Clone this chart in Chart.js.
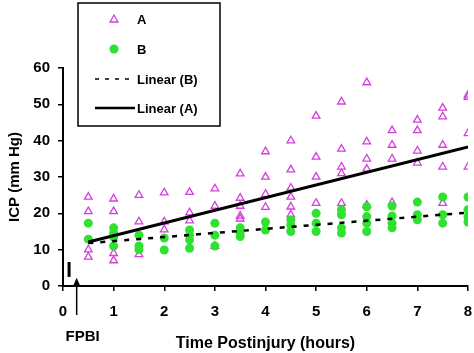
<!DOCTYPE html>
<html>
<head>
<meta charset="utf-8">
<script src="https://cdn.jsdelivr.net/npm/chart.js@4.4.0/dist/chart.umd.min.js"></script>
<style>
    html, body { margin: 0; padding: 0; background: #fff; }
    #wrap { position: relative; width: 474px; height: 353px; }
</style>
</head>
<body>
<div id="wrap"><canvas id="icpChart" width="474" height="353"></canvas></div>
<script>
// Time points (hours after injury) and ICP readings per time point
const hours = [0.5, 1, 1.5, 2, 2.5, 3, 3.5, 4, 4.5, 5, 5.5, 6, 6.5, 7, 7.5, 8];

const groupA = [
    [24.5, 20.5, 10, 8],
    [24, 20.5, 9, 7],
    [25, 17.7, 8.7],
    [25.7, 17.7, 15.5],
    [25.8, 20.2, 18],
    [26.8, 22, 11],
    [30.9, 24.2, 22, 19.3, 18.5],
    [37, 30, 25.3, 21.7],
    [40, 32, 27, 24.5, 21.8, 19.6],
    [46.8, 35.5, 30, 22.8],
    [50.7, 37.7, 32.8, 31, 22.8],
    [56, 39.7, 35, 32.2, 22.3],
    [42.8, 38.8, 35, 23],
    [45.7, 42.8, 37.2, 33.9],
    [49, 46.6, 38.8, 32.8, 22.8],
    [52.6, 52, 42, 32.8]
];

const groupB = [
    [17.3, 12.9],
    [16, 14.6, 13.5, 11],
    [14, 11, 10],
    [13.2, 9.9],
    [15.4, 14, 12.7, 10.4],
    [17.3, 14, 11],
    [16, 14.5, 13.6],
    [17.6, 15.4],
    [18.2, 16.8, 15],
    [20, 17.3, 15],
    [21, 19.6, 16, 14.6],
    [21.8, 19.1, 17.3, 15],
    [22, 19.3, 17.3, 16],
    [23.1, 19.6, 18.2],
    [24.5, 19.6, 17.3],
    [24.5, 21, 19, 17.6]
];

// Linear fits, endpoints
const fitHours = [0.5, 8];
const fitA = [12.1, 38.3];
const fitB = [11.8, 20.2];

// Injury marker: short bar [hour, from, to] and arrow [hour, tip]
const fpbiBar = [0.12, 2.5, 6.6];
const fpbiArrow = [0.27, 2.3];

const seriesLabels = ['A', 'B', 'Linear (B)', 'Linear (A)'];

const MAGENTA = '#d43ede';
const GREEN = '#2fe22f';
const FONT = "'Liberation Sans', Arial, sans-serif";

const toPoints = (groups) => hours.flatMap((h, i) => groups[i].map(v => ({ x: h, y: v })));
const fitPoints = (vals) => fitHours.map((h, i) => ({ x: h, y: vals[i] }));

// Boxed legend in the upper left
const boxLegend = {
    id: 'boxLegend',
    afterDraw(chart) {
        const ctx = chart.ctx;
        ctx.save();
        ctx.strokeStyle = '#000';
        ctx.lineWidth = 1.5;
        ctx.strokeRect(78, 3, 142, 123);

        const rows = [19, 49, 79, 108];
        ctx.font = 'bold 13px ' + FONT;
        ctx.textBaseline = 'middle';

        // A - hollow triangle
        ctx.strokeStyle = MAGENTA;
        ctx.lineWidth = 1.3;
        ctx.beginPath();
        ctx.moveTo(114, rows[0] - 4);
        ctx.lineTo(118, rows[0] + 3);
        ctx.lineTo(110, rows[0] + 3);
        ctx.closePath();
        ctx.stroke();

        // B - green dot
        ctx.fillStyle = GREEN;
        ctx.beginPath();
        ctx.arc(114, rows[1], 4.5, 0, Math.PI * 2);
        ctx.fill();

        // Linear (B) - dashed
        ctx.strokeStyle = '#000';
        ctx.lineWidth = 1.5;
        ctx.setLineDash([4, 6]);
        ctx.beginPath();
        ctx.moveTo(95, rows[2]);
        ctx.lineTo(135, rows[2]);
        ctx.stroke();

        // Linear (A) - solid
        ctx.setLineDash([]);
        ctx.lineWidth = 2.5;
        ctx.beginPath();
        ctx.moveTo(95, rows[3]);
        ctx.lineTo(135, rows[3]);
        ctx.stroke();

        ctx.fillStyle = '#000';
        seriesLabels.forEach((label, i) => ctx.fillText(label, 137, rows[i] + 1));
        ctx.restore();
    }
};

// FPBI bar + arrow + label
const fpbiMarker = {
    id: 'fpbiMarker',
    afterDraw(chart) {
        const { ctx, scales: { x, y } } = chart;
        ctx.save();
        ctx.strokeStyle = '#000';
        ctx.fillStyle = '#000';

        const bx = x.getPixelForValue(fpbiBar[0]);
        ctx.lineWidth = 3;
        ctx.beginPath();
        ctx.moveTo(bx, y.getPixelForValue(fpbiBar[1]));
        ctx.lineTo(bx, y.getPixelForValue(fpbiBar[2]));
        ctx.stroke();

        const ax = x.getPixelForValue(fpbiArrow[0]);
        const tip = y.getPixelForValue(fpbiArrow[1]);
        ctx.lineWidth = 1.5;
        ctx.beginPath();
        ctx.moveTo(ax, y.bottom + 29);
        ctx.lineTo(ax, tip + 4);
        ctx.stroke();
        ctx.beginPath();
        ctx.moveTo(ax, tip);
        ctx.lineTo(ax + 3.5, tip + 8);
        ctx.lineTo(ax - 3.5, tip + 8);
        ctx.closePath();
        ctx.fill();

        ctx.font = 'bold 15px ' + FONT;
        ctx.textAlign = 'center';
        ctx.textBaseline = 'middle';
        ctx.fillText('FPBI', ax + 6, y.bottom + 51);
        ctx.restore();
    }
};

new Chart(document.getElementById('icpChart'), {
    type: 'scatter',
    data: {
        datasets: [
            {
                label: seriesLabels[0],
                data: toPoints(groupA),
                pointStyle: 'triangle',
                pointRadius: 4.4,
                borderColor: MAGENTA,
                backgroundColor: 'rgba(255,255,255,0)',
                borderWidth: 1.3,
                order: 3
            },
            {
                label: seriesLabels[1],
                data: toPoints(groupB),
                pointStyle: 'circle',
                pointRadius: 4.5,
                borderWidth: 0,
                backgroundColor: GREEN,
                order: 2
            },
            {
                label: seriesLabels[2],
                data: fitPoints(fitB),
                showLine: true,
                borderColor: '#000',
                borderWidth: 2.5,
                borderDash: [5, 7],
                pointRadius: 0,
                order: 1
            },
            {
                label: seriesLabels[3],
                data: fitPoints(fitA),
                showLine: true,
                borderColor: '#000',
                borderWidth: 3,
                pointRadius: 0,
                order: 0
            }
        ]
    },
    options: {
        responsive: false,
        animation: false,
        layout: { padding: { top: 68, right: 6, left: 0, bottom: 0 } },
        plugins: {
            legend: { display: false },
            tooltip: { enabled: false }
        },
        scales: {
            x: {
                type: 'linear',
                min: 0,
                max: 8,
                afterFit: (scale) => {
                    scale.height = 67;
                    scale.paddingLeft = 0;
                    scale.paddingRight = 0;
                },
                border: { color: '#000', width: 2 },
                grid: { drawOnChartArea: false, drawTicks: true, tickLength: 5, color: '#000', lineWidth: 1.5 },
                ticks: {
                    stepSize: 1,
                    color: '#000',
                    padding: 12,
                    font: { family: FONT, size: 15, weight: 'bold' }
                },
                title: {
                    display: true,
                    text: 'Time Postinjury (hours)',
                    color: '#000',
                    padding: { top: 1, bottom: 0 },
                    font: { family: FONT, size: 16, weight: 'bold' }
                }
            },
            y: {
                min: 0,
                max: 60,
                afterFit: (scale) => {
                    scale.width = 63;
                    scale.paddingTop = 0;
                    scale.paddingBottom = 0;
                },
                border: { color: '#000', width: 2 },
                grid: { drawOnChartArea: false, drawTicks: true, tickLength: 5, color: '#000', lineWidth: 1.5 },
                ticks: {
                    stepSize: 10,
                    color: '#000',
                    padding: 8,
                    font: { family: FONT, size: 15, weight: 'bold' }
                },
                title: {
                    display: true,
                    text: 'ICP (mm Hg)',
                    color: '#000',
                    padding: { top: 6, bottom: 0 },
                    font: { family: FONT, size: 15, weight: 'bold' }
                }
            }
        }
    },
    plugins: [boxLegend, fpbiMarker]
});
</script>
</body>
</html>
